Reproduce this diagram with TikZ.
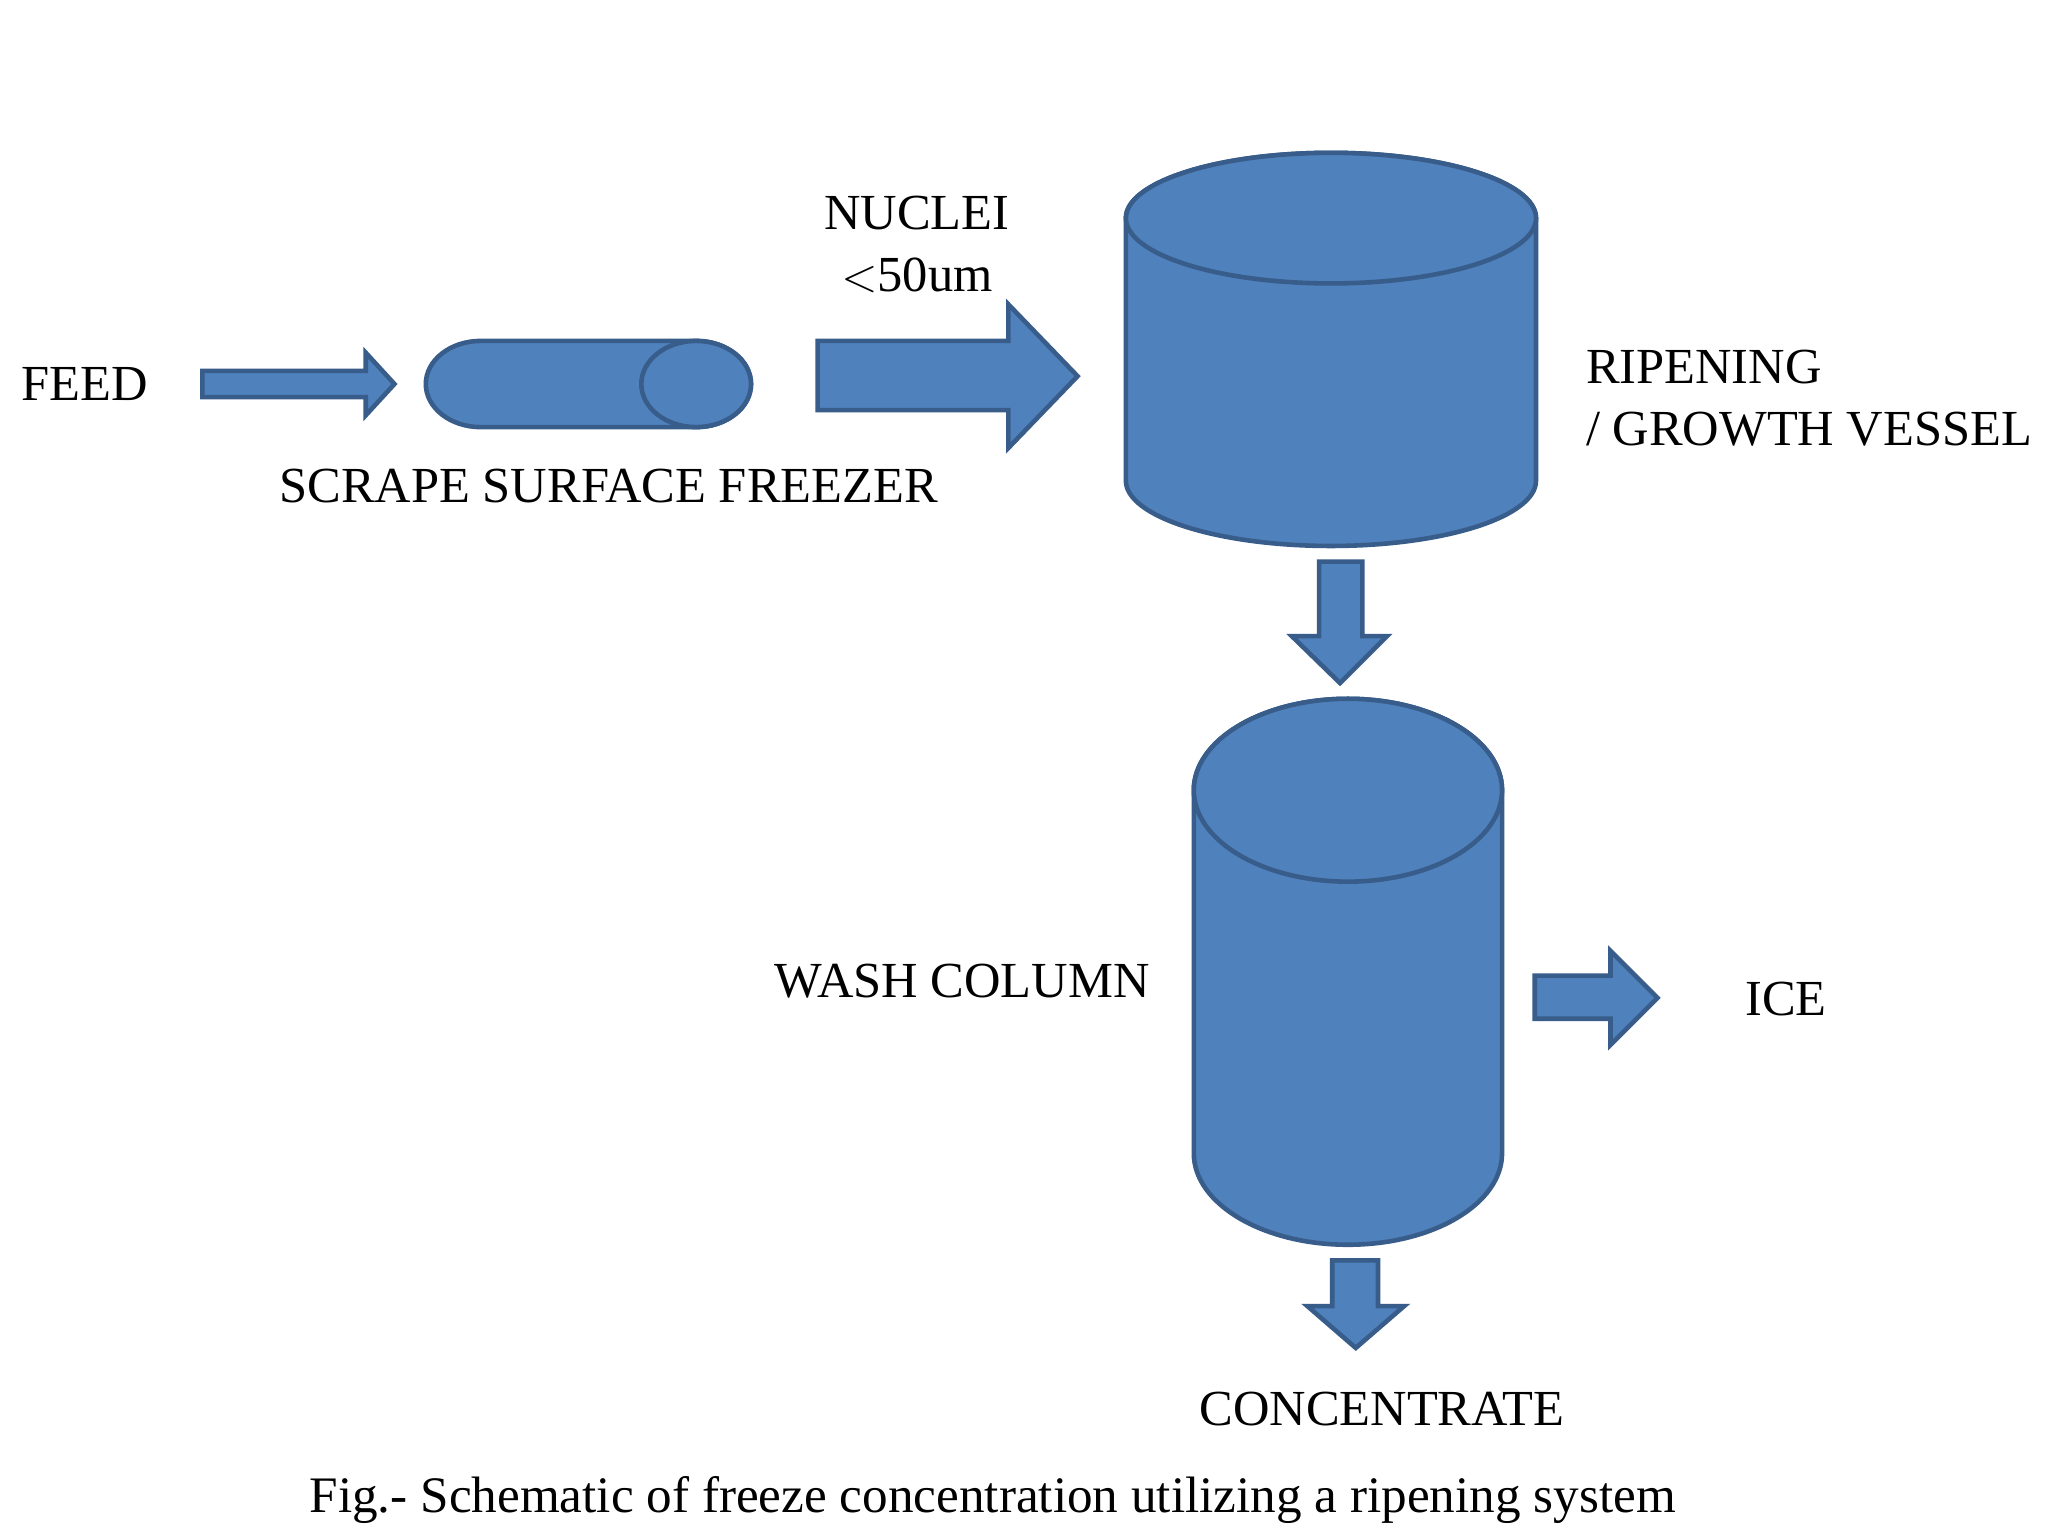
\documentclass[tikz,border=0pt]{standalone}
\usepackage{fontspec}
\setmainfont{Liberation Serif}
\definecolor{tankBlue}{RGB}{79,129,189}
\definecolor{tankEdge}{RGB}{56,93,138}

\begin{document}
\begin{tikzpicture}[x=0.2mm, y=-0.2mm,
    blockarrow/.style={fill=tankBlue, draw=tankEdge, line width=2pt},
    vessel/.style={fill=tankBlue, draw=tankEdge, line width=2pt},
    lbl/.style={inner sep=0pt, font=\fontsize{22}{27}\selectfont}]
    \path[use as bounding box, fill=white] (0,0) rectangle (1568,1176);

    % Feed arrow
    \draw[blockarrow] (155,284) -- (280,284) -- (280,270) -- (302,294) -- (280,318) -- (280,304) -- (155,304) -- cycle;

    % Scrape surface freezer (lying cylinder)
    \draw[vessel] (368,261) -- (533,261) arc[start angle=-90, end angle=90, x radius=42, y radius=33]
        -- (368,327) arc[start angle=90, end angle=270, x radius=42, y radius=33] -- cycle;
    \draw[vessel] (533,294) ellipse[x radius=42, y radius=33];

    % Nuclei arrow
    \draw[blockarrow] (626,261) -- (772,261) -- (772,233) -- (825,288) -- (772,343) -- (772,314) -- (626,314) -- cycle;

    % Ripening / growth vessel
    \draw[vessel] (862,167) -- (862,368) arc[start angle=180, end angle=0, x radius=157, y radius=50]
        -- (1176,167) arc[start angle=0, end angle=-180, x radius=157, y radius=50] -- cycle;
    \draw[vessel] (1019,167) ellipse[x radius=157, y radius=50];

    % Vessel to wash column
    \draw[blockarrow] (1010,430) -- (1043,430) -- (1043,487) -- (1062,487) -- (1026,523) -- (989,487) -- (1010,487) -- cycle;

    % Wash column
    \draw[vessel] (914,605) -- (914,883) arc[start angle=180, end angle=0, x radius=118, y radius=70]
        -- (1150,605) arc[start angle=0, end angle=-180, x radius=118, y radius=70] -- cycle;
    \draw[vessel] (1032,605) ellipse[x radius=118, y radius=70];

    % Ice out
    \draw[blockarrow] (1175,747) -- (1233,747) -- (1233,728) -- (1269,764) -- (1233,800) -- (1233,780) -- (1175,780) -- cycle;

    % Concentrate out
    \draw[blockarrow] (1020,965) -- (1055,965) -- (1055,1000) -- (1075,1000) -- (1038,1032) -- (1001,1000) -- (1020,1000) -- cycle;

    % Labels
    \node[lbl, anchor=west] (feed) at (16,294) {FEED};
    \node[lbl, anchor=base] (freezer) at (466,385) {SCRAPE SURFACE FREEZER};
    \node[lbl, align=center] (nuclei) at (702,187) {NUCLEI\\$<$50um};
    \node[lbl, anchor=west, align=left] (ripening) at (1214,305) {RIPENING\\/ GROWTH VESSEL};
    \node[lbl, anchor=west] (wash) at (593,751) {WASH COLUMN};
    \node[lbl, anchor=west] (ice) at (1336,765) {ICE};
    \node[lbl, anchor=base] (conc) at (1058,1091) {CONCENTRATE};

    % Caption
    \node[lbl, anchor=base, font=\fontsize{22.3}{27}\selectfont] (caption) at (760,1158) {Fig.- Schematic of freeze concentration utilizing a ripening system};
\end{tikzpicture}
\end{document}
